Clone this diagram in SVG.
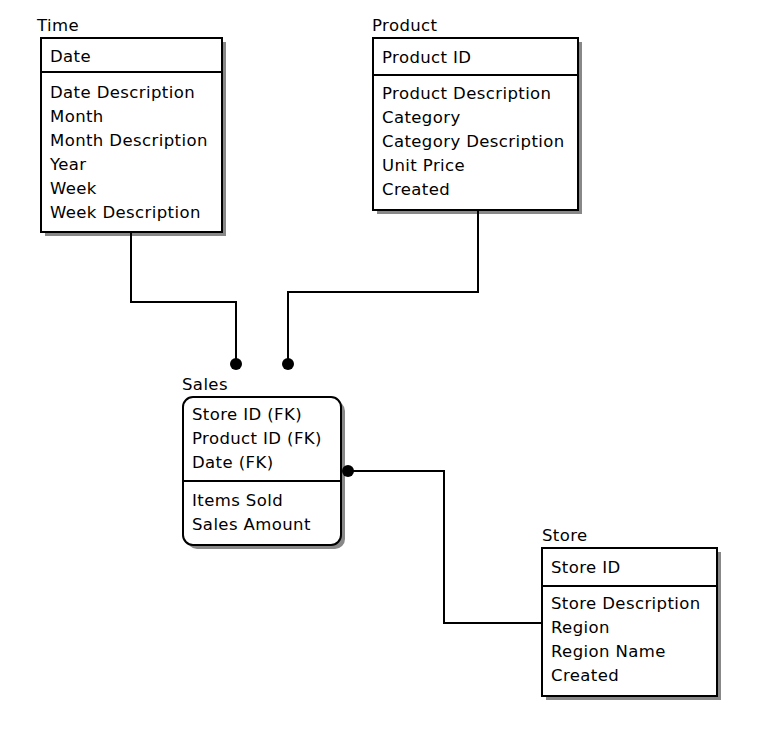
<svg xmlns="http://www.w3.org/2000/svg" width="776" height="732" viewBox="0 0 776 732">
<style>
text{font-family:"DejaVu Sans",sans-serif;font-size:16.5px;letter-spacing:0.4px;fill:#000}
.box{fill:#fff;stroke:#000;stroke-width:2}
.sh{fill:#888}
.ln{fill:none;stroke:#000;stroke-width:2}
</style>
<rect width="776" height="732" fill="#fff"/>
<g id="time">
<rect class="sh" x="45" y="42" width="181" height="194"/>
<rect class="box" x="41" y="38" width="181" height="194"/>
<line class="ln" x1="41" y1="72" x2="222" y2="72"/>
<text x="37" y="31">Time</text>
<text x="50" y="62">Date</text>
<text x="50" y="98">Date Description</text>
<text x="50" y="122">Month</text>
<text x="50" y="146">Month Description</text>
<text x="50" y="170">Year</text>
<text x="50" y="194">Week</text>
<text x="50" y="218">Week Description</text>
</g>
<g id="product">
<rect class="sh" x="377" y="42" width="205" height="172"/>
<rect class="box" x="373" y="38" width="205" height="172"/>
<line class="ln" x1="373" y1="75" x2="578" y2="75"/>
<text x="372" y="31">Product</text>
<text x="382" y="63">Product ID</text>
<text x="382" y="99">Product Description</text>
<text x="382" y="123">Category</text>
<text x="382" y="147">Category Description</text>
<text x="382" y="171">Unit Price</text>
<text x="382" y="195">Created</text>
</g>
<g id="sales">
<rect class="sh" x="187" y="401" width="158" height="148" rx="10"/>
<rect class="box" x="183" y="397" width="158" height="148" rx="10"/>
<line class="ln" x1="183" y1="481" x2="341" y2="481"/>
<text x="182" y="390">Sales</text>
<text x="192" y="420">Store ID (FK)</text>
<text x="192" y="444">Product ID (FK)</text>
<text x="192" y="468">Date (FK)</text>
<text x="192" y="506">Items Sold</text>
<text x="192" y="530">Sales Amount</text>
</g>
<g id="store">
<rect class="sh" x="546" y="552" width="175" height="148"/>
<rect class="box" x="542" y="548" width="175" height="148"/>
<line class="ln" x1="542" y1="586" x2="717" y2="586"/>
<text x="542" y="541">Store</text>
<text x="551" y="573">Store ID</text>
<text x="551" y="609">Store Description</text>
<text x="551" y="633">Region</text>
<text x="551" y="657">Region Name</text>
<text x="551" y="681">Created</text>
</g>
<g id="connectors">
<polyline class="ln" points="131,232 131,302 236,302 236,363"/>
<circle cx="236" cy="364" r="6"/>
<polyline class="ln" points="478,210 478,292 288,292 288,363"/>
<circle cx="288" cy="364" r="6"/>
<polyline class="ln" points="348,471 444,471 444,623 542,623"/>
<circle cx="348" cy="471" r="6"/>
</g>
</svg>
